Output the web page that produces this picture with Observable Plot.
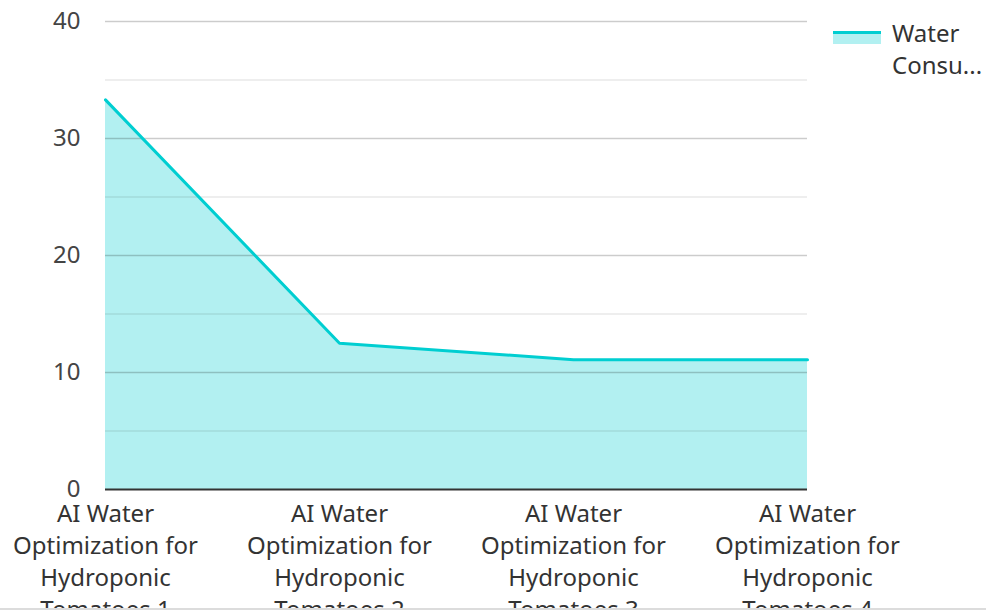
<!DOCTYPE html>
<html>
<head>
<meta charset="utf-8">
<script src="https://cdn.jsdelivr.net/npm/d3@7"></script>
<script src="https://cdn.jsdelivr.net/npm/@observablehq/plot@0.6"></script>
<style>
  html, body { margin: 0; padding: 0; background: #fff; font-family: "Noto Sans", sans-serif; }
  #wrap { position: relative; width: 986px; height: 608px; overflow: hidden; border-bottom: 2px solid #dcdcdc; }
  #legend { position: absolute; left: 833px; top: 17px; display: flex; align-items: flex-start; font-size: 24px; color: #333; line-height: 32px; }
  #legend .sw { width: 48px; height: 13px; margin-top: 14px; margin-right: 11px; border-top: 3px solid #00CED1; background: rgba(0,206,209,0.3); box-sizing: border-box; }
</style>
</head>
<body>
<div id="wrap">
  <div id="chart"></div>
  <div id="legend"><div class="sw"></div><div>Water<br>Consu...</div></div>
</div>
<script>
const categories = [
  "AI Water Optimization for Hydroponic Tomatoes 1",
  "AI Water Optimization for Hydroponic Tomatoes 2",
  "AI Water Optimization for Hydroponic Tomatoes 3",
  "AI Water Optimization for Hydroponic Tomatoes 4"
];
const waterConsumption = [33.3, 12.5, 11.1, 11.1];
const majorTicks = [0, 10, 20, 30, 40];
const minorTicks = [5, 15, 25, 35];
const seriesName = "Water Consumption";

const data = categories.map((c, i) => ({category: c, value: waterConsumption[i]}));

function wrap(s, max) {
  const words = s.split(" ");
  const lines = [];
  let cur = "";
  for (const w of words) {
    if (cur && (cur + " " + w).length > max) { lines.push(cur); cur = w; }
    else cur = cur ? cur + " " + w : w;
  }
  if (cur) lines.push(cur);
  return lines.join("\n");
}

const chart = Plot.plot({
  width: 986,
  height: 608,
  marginLeft: 105,
  marginRight: 179,
  marginTop: 21,
  marginBottom: 119,
  style: {fontFamily: "'Noto Sans', sans-serif", fontSize: "24px", color: "#333", background: "transparent"},
  x: {type: "point", domain: categories, padding: 0},
  y: {domain: [0, 40]},
  marks: [
    Plot.areaY(data, {x: "category", y: "value", fill: "#00CED1", fillOpacity: 0.3}),
    Plot.ruleY(minorTicks, {stroke: "#000", strokeOpacity: 0.09, strokeWidth: 1.5}),
    Plot.ruleY(majorTicks.filter(d => d > 0), {stroke: "#000", strokeOpacity: 0.2, strokeWidth: 1.5}),
    Plot.lineY(data, {x: "category", y: "value", stroke: "#00CED1", strokeWidth: 3}),
    Plot.ruleY([0], {stroke: "#333", strokeWidth: 2}),
    Plot.axisY({ticks: majorTicks, tickSize: 0, tickPadding: 25, fill: "#444", fontSize: 24, label: null}),
    Plot.axisX({tickSize: 0, tickPadding: 10, fontSize: 24, fill: "#333", lineHeight: 1.333, textAnchor: "middle", label: null,
      tickFormat: d => wrap(d, 16)})
  ]
});
document.getElementById("chart").appendChild(chart);
</script>
</body>
</html>
